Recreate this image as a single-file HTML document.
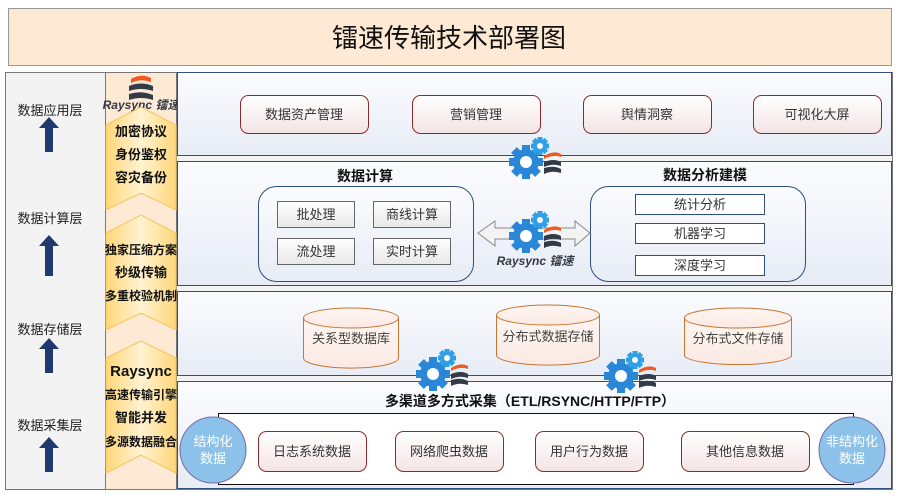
<!DOCTYPE html>
<html><head><meta charset="utf-8"><style>
body{margin:0;background:#fff}
text{font-family:"Liberation Sans","Noto Sans CJK SC",sans-serif}
</style></head><body>
<svg width="898" height="499" viewBox="0 0 898 499" xmlns="http://www.w3.org/2000/svg">
<defs>
<linearGradient id="pan" x1="0" y1="0" x2="0" y2="1"><stop offset="0" stop-color="#fbfcfe"/><stop offset="1" stop-color="#e7ecf5"/></linearGradient>
<linearGradient id="red" x1="0" y1="0" x2="0" y2="1"><stop offset="0" stop-color="#ffffff"/><stop offset="1" stop-color="#f4e4e4"/></linearGradient>
<linearGradient id="gry" x1="0" y1="0" x2="0" y2="1"><stop offset="0" stop-color="#ffffff"/><stop offset="1" stop-color="#e8e8e8"/></linearGradient>
<linearGradient id="chev" x1="0" y1="0" x2="1" y2="0"><stop offset="0" stop-color="#ffd67a"/><stop offset="0.5" stop-color="#fff3d1"/><stop offset="1" stop-color="#ffd67a"/></linearGradient>
<linearGradient id="cyl" x1="0" y1="0" x2="0" y2="1"><stop offset="0" stop-color="#fff6f2"/><stop offset="1" stop-color="#fbe9e3"/></linearGradient>
<g id="gear">
 <g fill="#2a86d6">
  <rect x="-4" y="-17" width="8" height="34"/>
  <rect x="-4" y="-17" width="8" height="34" transform="rotate(45)"/>
  <rect x="-4" y="-17" width="8" height="34" transform="rotate(90)"/>
  <rect x="-4" y="-17" width="8" height="34" transform="rotate(135)"/>
  <circle r="13"/>
 </g>
 <circle r="6" fill="#fff"/>
 <g fill="#2fa0e6" transform="translate(14,-16)">
  <rect x="-2.5" y="-9" width="5" height="18"/>
  <rect x="-2.5" y="-9" width="5" height="18" transform="rotate(45)"/>
  <rect x="-2.5" y="-9" width="5" height="18" transform="rotate(90)"/>
  <rect x="-2.5" y="-9" width="5" height="18" transform="rotate(135)"/>
  <circle r="6.5"/>
  <circle r="3" fill="#fff"/>
 </g>
 <path d="M18,-6 q10,-6 17,-2 l0,3 q-8,-3 -17,2z" fill="#f05a22"/>
 <path d="M18,0 q10,-4 17,0 l0,4 q-8,-3 -17,1z" fill="#333a48"/>
 <path d="M18,6 q10,-3 17,1 l0,4 q-9,-3 -17,1z" fill="#333a48"/>
</g>
</defs>

<rect x="8.5" y="8.5" width="883" height="57" fill="#fde9d4" stroke="#999"/>
<text x="449" y="47" font-size="26" text-anchor="middle" fill="#111">镭速传输技术部署图</text>

<rect x="5.5" y="72.5" width="887" height="417" fill="#f3f3f3" stroke="#777"/>
<rect x="105.5" y="72.5" width="71" height="417" fill="#fde9d4" stroke="#777"/>

<g font-size="13" fill="#222" text-anchor="middle">
<text x="50" y="115">数据应用层</text>
<text x="50" y="223">数据计算层</text>
<text x="50" y="334">数据存储层</text>
<text x="50" y="430">数据采集层</text>
</g>
<g fill="#1f3a6e">
<path d="M49,117 l10,11 h-6 v24 h-8 v-24 h-6z"/>
<path d="M49,235 l10,11 h-6 v30 h-8 v-30 h-6z"/>
<path d="M49,338 l10,11 h-6 v24 h-8 v-24 h-6z"/>
<path d="M49,437 l10,11 h-6 v24 h-8 v-24 h-6z"/>
</g>

<path d="M131,79 q10,-6 20,-1 l0,4 q-10,-4 -20,1z" fill="#f05a22"/>
<path d="M129,86 q12,-5 24,0 l0,5 q-12,-4 -24,0z" fill="#333a48"/>
<path d="M129,94 q12,-4 24,1 l0,5 q-12,-4 -24,0z" fill="#333a48"/>
<text x="141" y="109" font-size="12" font-style="italic" font-weight="bold" text-anchor="middle" fill="#333a48">Raysync 镭速</text>

<polygon points="106,125 141,107 176,125 176,210 141,193 106,210" fill="url(#chev)" stroke="#f7c35a"/>
<polygon points="106,233 141,215 176,233 176,330 141,313 106,330" fill="url(#chev)" stroke="#f7c35a"/>
<polygon points="106,358 141,341 176,358 176,473 141,455 106,473" fill="url(#chev)" stroke="#f7c35a"/>
<g font-size="13" font-weight="bold" fill="#111" text-anchor="middle">
<text x="141" y="136">加密协议</text>
<text x="141" y="159">身份鉴权</text>
<text x="141" y="182">容灾备份</text>
<text x="141" y="254" font-size="12">独家压缩方案</text>
<text x="141" y="277">秒级传输</text>
<text x="141" y="300" font-size="12">多重校验机制</text>
<text x="141" y="376" font-size="15">Raysync</text>
<text x="141" y="399" font-size="12">高速传输引擎</text>
<text x="141" y="422">智能并发</text>
<text x="141" y="446" font-size="12">多源数据融合</text>
</g>

<rect x="177.5" y="72.5" width="714" height="83" fill="url(#pan)" stroke="#2f4f7f"/>
<rect x="177.5" y="161.5" width="714" height="124" fill="url(#pan)" stroke="#2f4f7f"/>
<rect x="177.5" y="291.5" width="714" height="84" fill="url(#pan)" stroke="#2f4f7f"/>
<rect x="177.5" y="381.5" width="714" height="107" fill="url(#pan)" stroke="#2f4f7f"/>

<g fill="url(#red)" stroke="#8b2a2a">
<rect x="240.5" y="95.5" width="128" height="38" rx="8"/>
<rect x="412.5" y="95.5" width="128" height="38" rx="8"/>
<rect x="583.5" y="95.5" width="128" height="38" rx="8"/>
<rect x="753.5" y="95.5" width="128" height="38" rx="8"/>
</g>
<g font-size="13" fill="#333" text-anchor="middle">
<text x="304" y="119">数据资产管理</text>
<text x="476" y="119">营销管理</text>
<text x="647" y="119">舆情洞察</text>
<text x="817" y="119">可视化大屏</text>
</g>

<text x="365" y="181" font-size="14" font-weight="bold" text-anchor="middle" fill="#111">数据计算</text>
<text x="705" y="180" font-size="14" font-weight="bold" text-anchor="middle" fill="#111">数据分析建模</text>
<rect x="258.5" y="186.5" width="215" height="95" rx="18" fill="url(#pan)" stroke="#2f4f7f"/>
<rect x="590.5" y="186.5" width="215" height="95" rx="18" fill="url(#pan)" stroke="#2f4f7f"/>
<g fill="url(#gry)" stroke="#666">
<rect x="277.5" y="201.5" width="77" height="26"/>
<rect x="373.5" y="201.5" width="77" height="26"/>
<rect x="277.5" y="238.5" width="77" height="26"/>
<rect x="373.5" y="238.5" width="77" height="26"/>
</g>
<g fill="#fff" stroke="#2f4f7f">
<rect x="635.5" y="194.5" width="129" height="20"/>
<rect x="635.5" y="223.5" width="129" height="20"/>
<rect x="635.5" y="255.5" width="129" height="20"/>
</g>
<g font-size="13" fill="#333" text-anchor="middle">
<text x="316" y="219">批处理</text>
<text x="412" y="219">商线计算</text>
<text x="316" y="256">流处理</text>
<text x="412" y="256">实时计算</text>
<text x="700" y="209">统计分析</text>
<text x="700" y="238">机器学习</text>
<text x="700" y="270">深度学习</text>
</g>
<polygon points="478,233 495,221 495,228 575,228 575,221 590,233 575,246 575,239 495,239 495,246" fill="#f3f3f3" stroke="#888"/>
<text x="535" y="265" font-size="12" font-style="italic" font-weight="bold" text-anchor="middle" fill="#333a48">Raysync 镭速</text>

<g fill="url(#cyl)" stroke="#c87533">
<path d="M303.5,318 v40 a47,10 0 0 0 95,0 v-40"/>
<ellipse cx="351" cy="318" rx="47.5" ry="10"/>
<path d="M496.5,315 v40 a51,10 0 0 0 103,0 v-40"/>
<ellipse cx="548" cy="315" rx="51.5" ry="10"/>
<path d="M684.5,318 v38 a54,10 0 0 0 107,0 v-38"/>
<ellipse cx="738" cy="318" rx="53.5" ry="10"/>
</g>
<g font-size="13" fill="#444" text-anchor="middle">
<text x="351" y="343">关系型数据库</text>
<text x="548" y="341">分布式数据存储</text>
<text x="738" y="343">分布式文件存储</text>
</g>

<text x="530" y="406" font-size="14" font-weight="bold" text-anchor="middle" fill="#111">多渠道多方式采集（ETL/RSYNC/HTTP/FTP）</text>
<rect x="218.5" y="413.5" width="635" height="71" fill="#fff" stroke="#111"/>
<g fill="url(#red)" stroke="#8b2a2a">
<rect x="258.5" y="431.5" width="108" height="40" rx="8"/>
<rect x="395.5" y="431.5" width="108" height="40" rx="8"/>
<rect x="535.5" y="431.5" width="108" height="40" rx="8"/>
<rect x="681.5" y="431.5" width="128" height="40" rx="8"/>
</g>
<g font-size="13" fill="#333" text-anchor="middle">
<text x="312" y="456">日志系统数据</text>
<text x="449" y="456">网络爬虫数据</text>
<text x="589" y="456">用户行为数据</text>
<text x="745" y="456">其他信息数据</text>
</g>
<circle cx="213" cy="450" r="33" fill="#8cc2ea" stroke="#7a6aa8"/>
<circle cx="852" cy="450" r="33" fill="#8cc2ea" stroke="#7a6aa8"/>
<g font-size="13" fill="#fff" text-anchor="middle">
<text x="213" y="446">结构化</text><text x="213" y="463">数据</text>
<text x="852" y="446">非结构化</text><text x="852" y="463">数据</text>
</g>

<use href="#gear" transform="translate(526,162)"/>
<use href="#gear" transform="translate(526,236)"/>
<use href="#gear" transform="translate(433,374)"/>
<use href="#gear" transform="translate(621,376)"/>
</svg>
</body></html>
